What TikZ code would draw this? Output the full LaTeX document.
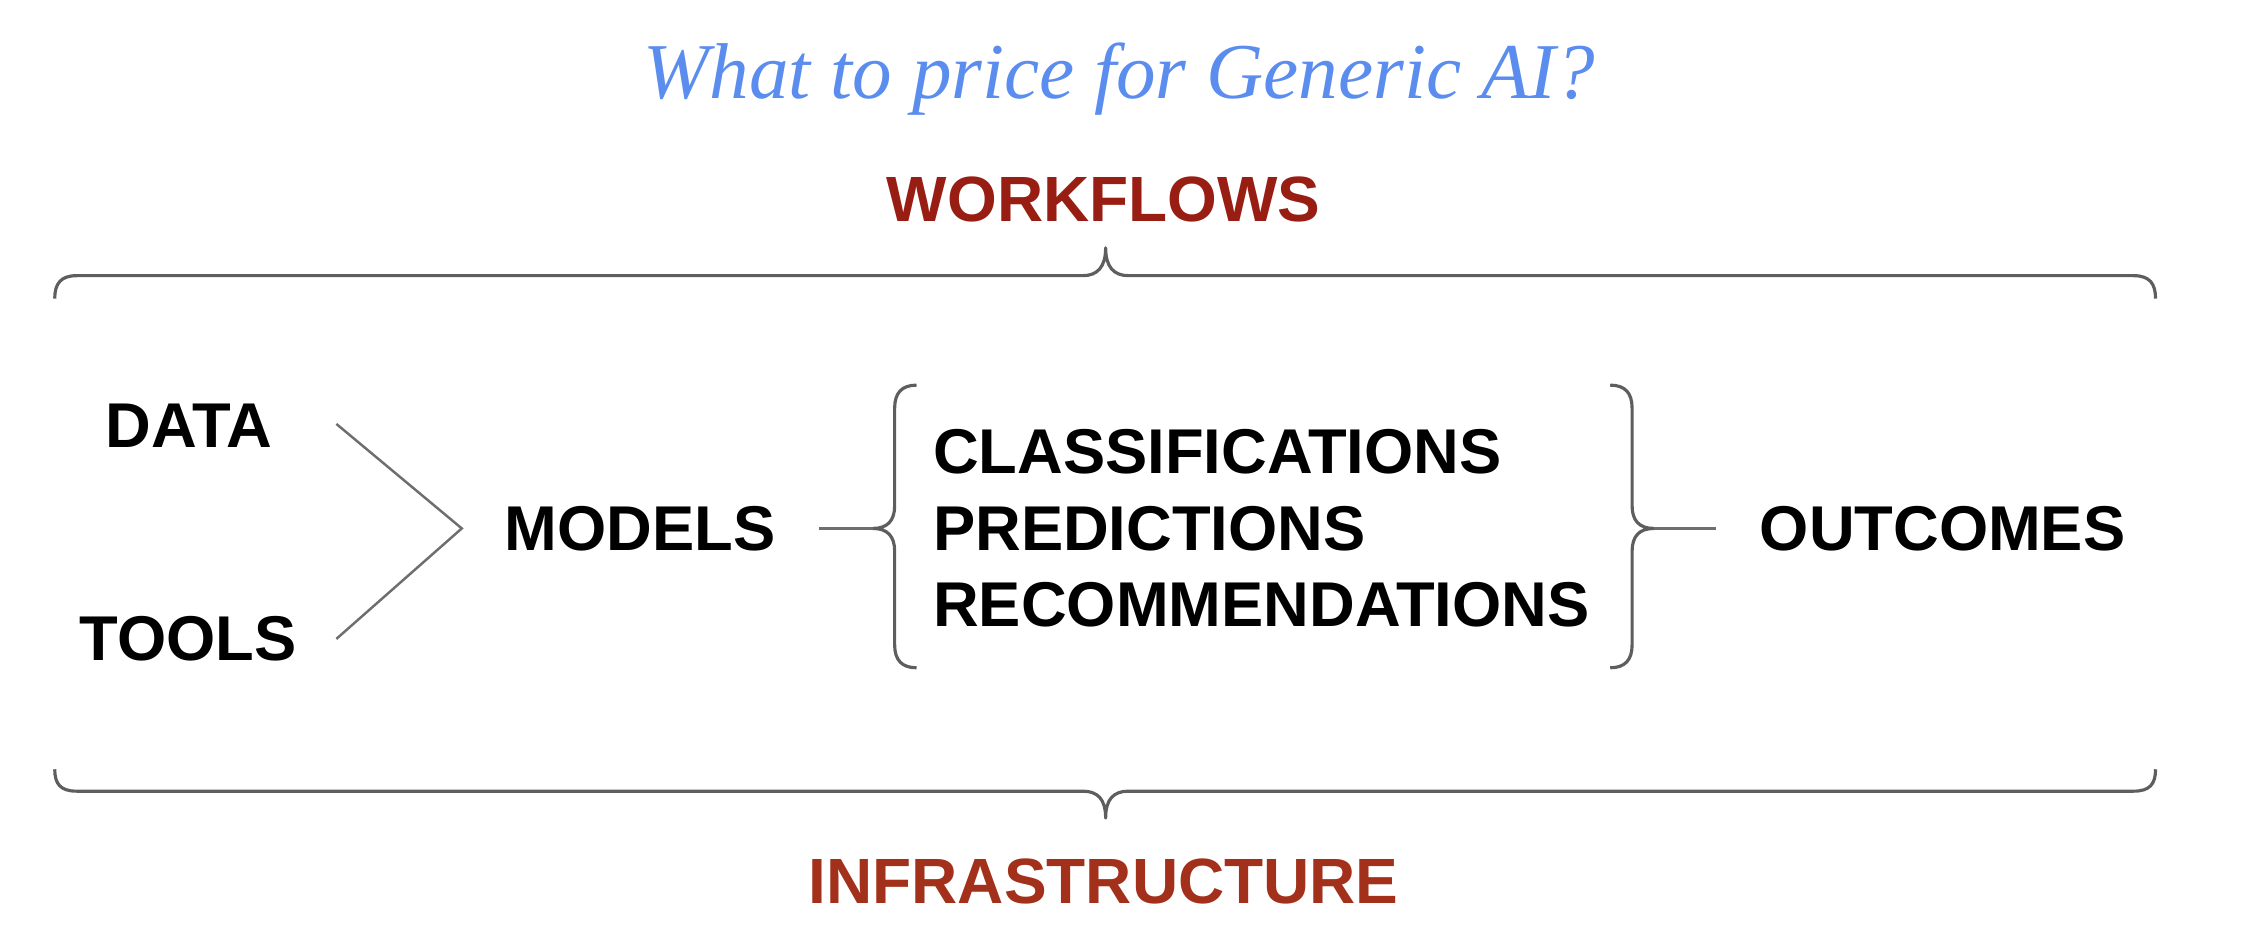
\documentclass[tikz,border=0pt]{standalone}
\usepackage{fontspec}
\setmainfont{Liberation Sans}
\newfontfamily\titlefont{Liberation Serif}
\usepackage{xcolor}
\usetikzlibrary{positioning}

\definecolor{titleblue}{HTML}{5B8DEE}
\definecolor{wfred}{HTML}{981E14}
\definecolor{infred}{HTML}{A2301A}
\definecolor{linegray}{HTML}{5E5E5E}

\tikzset{
  lbl/.style={inner sep=0pt, font=\fontsize{18}{21.8}\selectfont\bfseries},
  tier/.style={inner sep=0pt, font=\fontsize{18.2}{22}\selectfont\bfseries},
  brace/.style={draw=linegray, line width=0.9pt, line join=round},
  conn/.style={draw=linegray!90, line width=0.7pt}
}

\begin{document}
\begin{tikzpicture}[x=0.00995cm,y=-0.00995cm]
\useasboundingbox (0,0) rectangle (2273,941);

% title:
\node[inner sep=0pt, anchor=base, text=titleblue,
      font=\titlefont\itshape\fontsize{22.5}{26}\selectfont] (title) at (1125,99) {What to price for Generic AI?};

% top tier:
\node[tier, text=wfred] (workflows) at (1109,200) {WORKFLOWS};
\draw[brace] (55,300) .. controls (55,285) and (61,277) .. (77,277) -- (1088,277)
  .. controls (1103,277) and (1111,268) .. (1111,249)
  .. controls (1111,268) and (1119,277) .. (1134,277) -- (2144,277)
  .. controls (2160,277) and (2166,285) .. (2166,300);

% inputs:
\node[lbl] (data) at (190,428) {DATA};
\node[lbl] (tools) at (189,642) {TOOLS};
\node[lbl] (models) at (643,531) {MODELS};

\coordinate (d1) at (338,426);
\coordinate (fork) at (464,531);
\coordinate (t1) at (338,642);
\draw[conn] (d1) -- (fork) -- (t1);

% outputs:
\node[lbl, anchor=west, align=left] (kinds) at (937,531) {CLASSIFICATIONS\\PREDICTIONS\\RECOMMENDATIONS};
\node[lbl] (outcomes) at (1952,531) {OUTCOMES};

\coordinate (ltip) at (877,531);
\coordinate (rtip) at (1662,531);
\draw[brace] (921,387) .. controls (906,387) and (899,395) .. (899,410) -- (899,508)
  .. controls (899,523) and (892,531) .. (ltip)
  .. controls (892,531) and (899,539) .. (899,554) -- (899,648)
  .. controls (899,663) and (906,671) .. (921,671);
\draw[brace] (1618,387) .. controls (1633,387) and (1640,395) .. (1640,410) -- (1640,508)
  .. controls (1640,523) and (1647,531) .. (rtip)
  .. controls (1647,531) and (1640,539) .. (1640,554) -- (1640,648)
  .. controls (1640,663) and (1633,671) .. (1618,671);

\draw[conn] ([xshift=43*0.01cm]models.east) -- (ltip);
\draw[conn] (rtip) -- ([xshift=-43*0.01cm]outcomes.west);

% bottom tier:
\draw[brace] (55,773) .. controls (55,788) and (61,795) .. (77,795) -- (1088,795)
  .. controls (1103,795) and (1111,803) .. (1111,822)
  .. controls (1111,803) and (1119,795) .. (1134,795) -- (2144,795)
  .. controls (2160,795) and (2166,788) .. (2166,773);
\node[tier, text=infred] (infra) at (1109,886) {INFRASTRUCTURE};

\end{tikzpicture}
\end{document}
